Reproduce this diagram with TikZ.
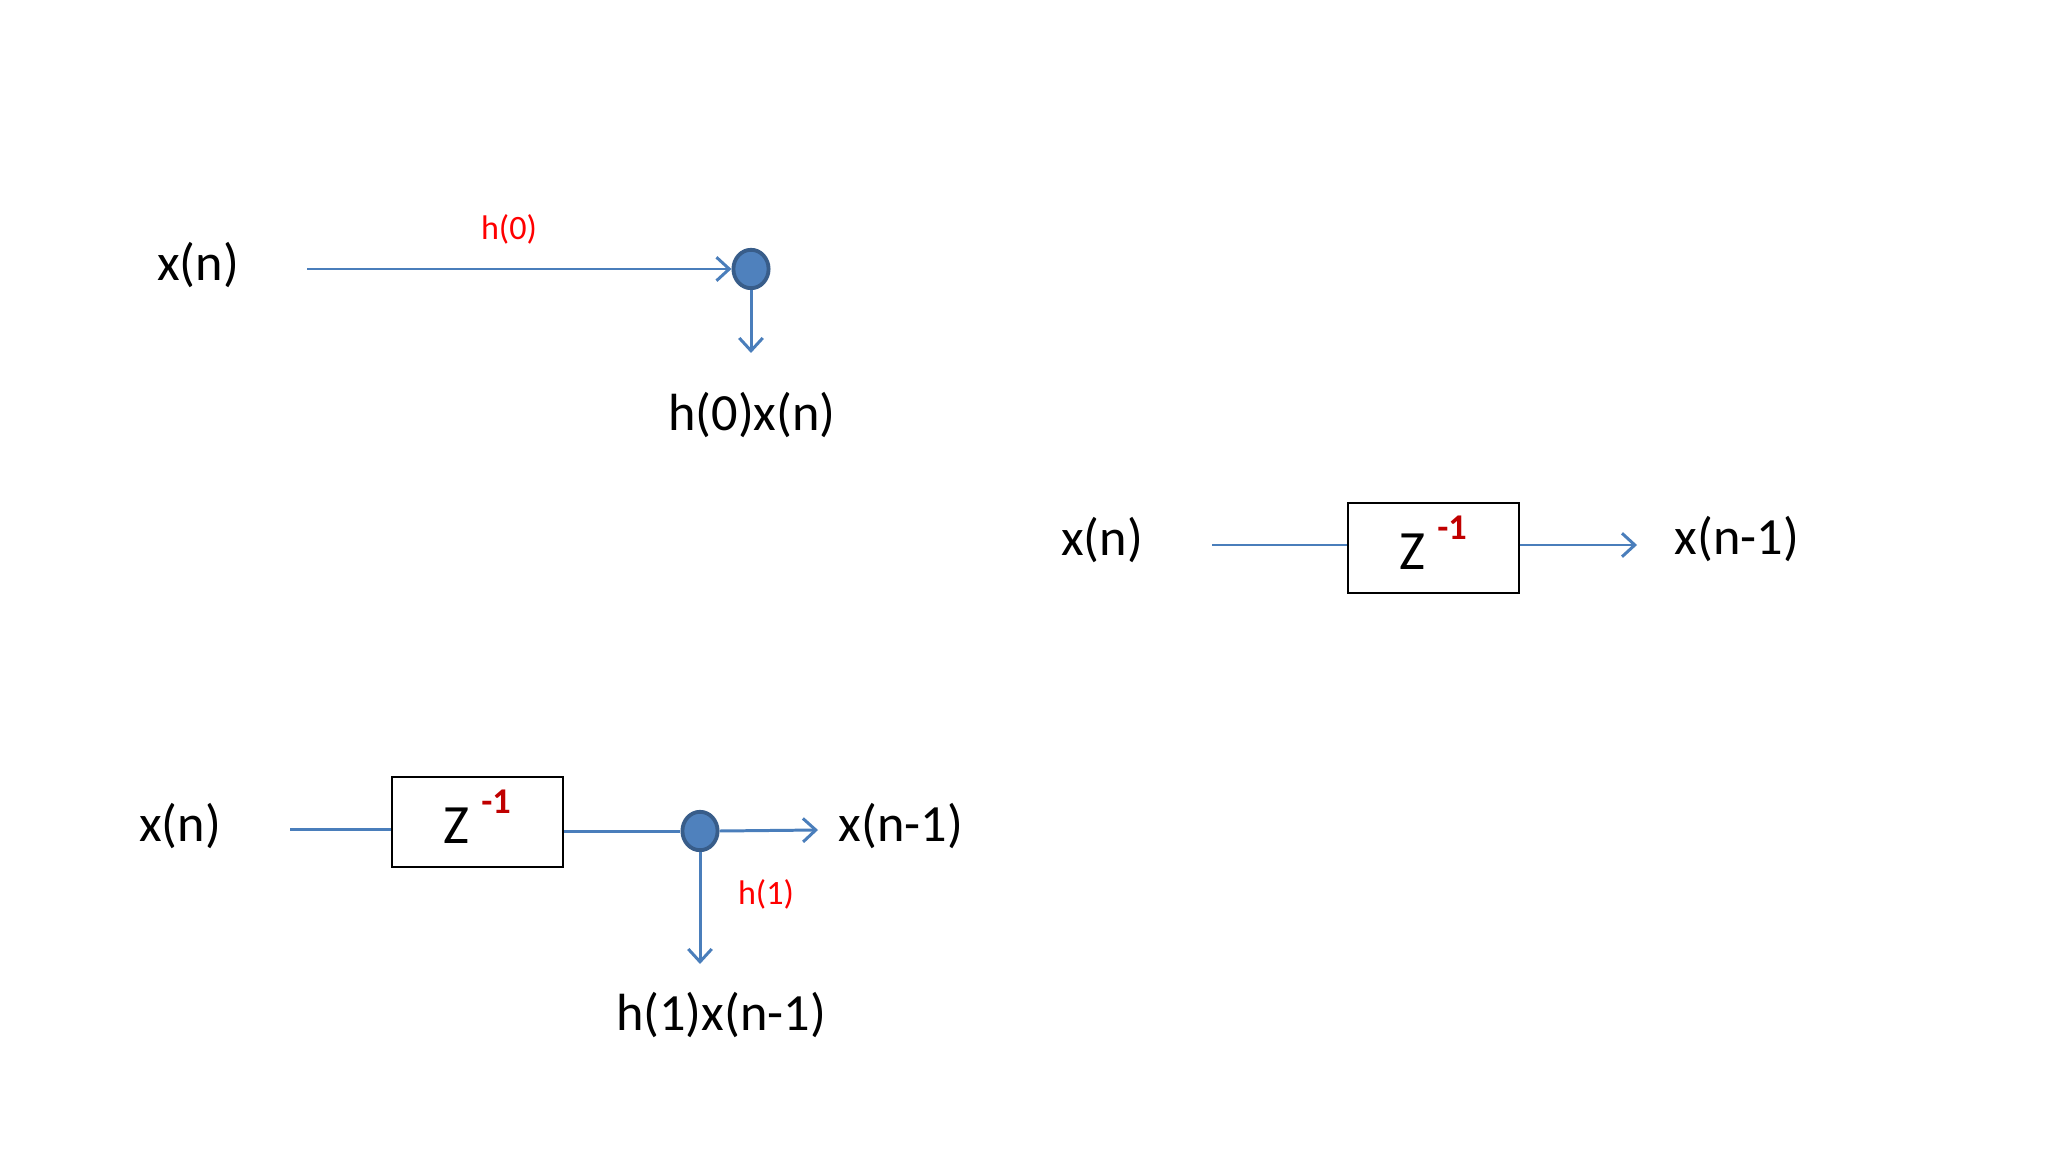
\documentclass[tikz,border=0pt]{standalone}
\usepackage{fontspec}
\setmainfont{Carlito}
\usetikzlibrary{arrows.meta,shapes.geometric}
\definecolor{lineblue}{HTML}{4A7EBB}
\definecolor{dotfill}{HTML}{4F81BD}
\definecolor{dotedge}{HTML}{385D8A}
\definecolor{labred}{HTML}{FF0000}
\definecolor{supred}{HTML}{C00000}
\begin{document}
\begin{tikzpicture}[x=0.46875pt,y=-0.46875pt,
  sig/.style={draw=lineblue,line width=1.4pt},
  sigarrow/.style={sig,-{Straight Barb[length=6pt,width=11pt,line width=1.4pt]}},
  bigtext/.style={inner sep=0pt,font=\fontsize{24.5pt}{28pt}\selectfont},
  gain/.style={inner sep=0pt,text=labred,font=\fontsize{16pt}{19pt}\selectfont},
  dot/.style={ellipse,draw=dotedge,fill=dotfill,line width=1.8pt,minimum width=16.5pt,minimum height=18pt,inner sep=0pt},
  delaybox/.style={draw=black,line width=0.9pt,minimum width=80pt,minimum height=42pt,inner sep=0pt},
  zlet/.style={inner sep=0pt,font=\fontsize{26pt}{30pt}\selectfont},
  zsup/.style={inner sep=0pt,text=supred,font=\bfseries\fontsize{17pt}{20pt}\selectfont}]
\useasboundingbox (0,0) rectangle (2048,1152);
% top: multiplier h(0)
\node[bigtext] (xa) at (198,265) {x(n)};
\coordinate (sa) at (307,269);
\node[dot] (ca) at (751,269) {};
\node[gain] (ga) at (509,229) {h(0)};
\coordinate (da) at (751,353);
\node[bigtext] (ya) at (752,415) {h(0)x(n)};
\draw[sigarrow] (sa) -- (ca.west);
\draw[sigarrow] (ca.south) -- (da);
% middle: delay
\node[bigtext] (xb) at (1102,540) {x(n)};
\coordinate (sb) at (1212,545);
\node[delaybox] (bb) at (1433.5,548) {};
\node[zlet] (zb) at (1412,552) {Z};
\node[zsup] (pb) at (1452,528) {-1};
\coordinate (eb) at (1637,545);
\node[bigtext] (yb) at (1737,539) {x(n-1)};
\draw[sig] (sb) -- (sb -| bb.west);
\draw[sigarrow] (bb.east |- eb) -- (eb);
% bottom: delay and multiplier h(1)
\node[bigtext] (xc) at (180,826) {x(n)};
\coordinate (sc) at (290,829);
\node[delaybox] (bc) at (477.5,822) {};
\node[zlet] (zc) at (456,826) {Z};
\node[zsup] (pc) at (496,802) {-1};
\node[dot] (cc) at (700,831) {};
\coordinate (ec) at (818,830);
\node[bigtext] (yc) at (901,826) {x(n-1)};
\node[gain] (gc) at (766,894) {h(1)};
\coordinate (dc) at (700,964);
\node[bigtext] (hc) at (721,1015) {h(1)x(n-1)};
\draw[sig] (sc) -- (sc -| bc.west);
\draw[sig] (bc.east |- cc) -- (cc.west);
\draw[sigarrow] (cc.east) -- (ec);
\draw[sigarrow] (cc.south) -- (dc);
\end{tikzpicture}
\end{document}
